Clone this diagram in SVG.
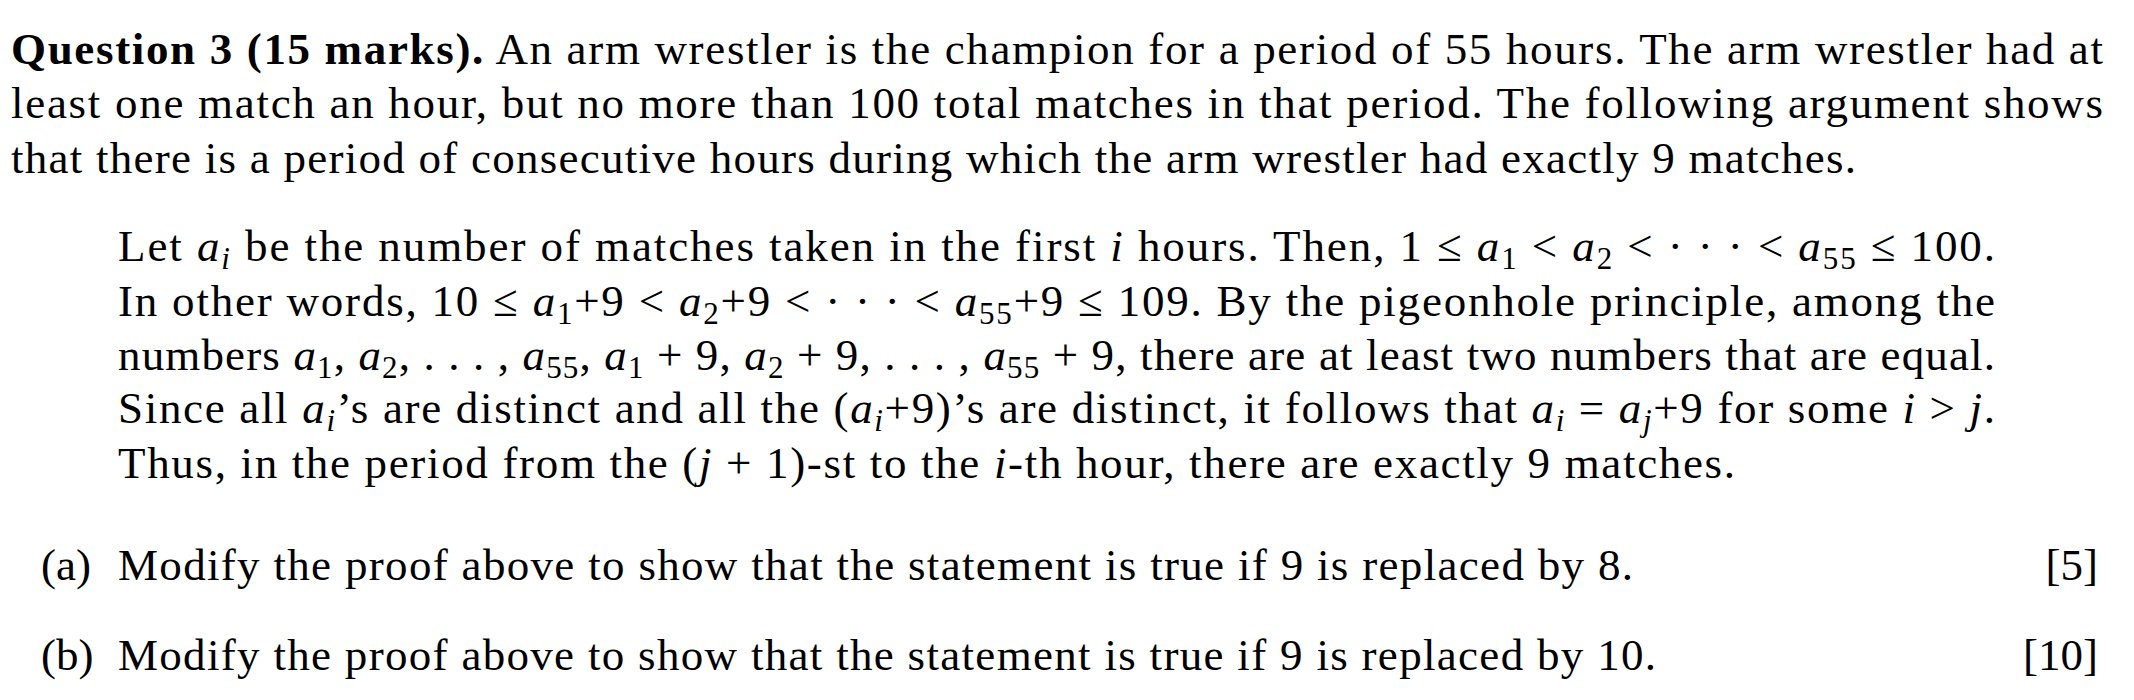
<svg xmlns="http://www.w3.org/2000/svg" width="2134" height="700" viewBox="0 0 2134 700">
<style>
text{font-family:"Liberation Serif","DejaVu Serif",serif;font-size:45px;fill:#000}
.i{font-style:italic}
.s{font-size:31px}
.b{font-weight:bold}
</style>
<rect width="2134" height="700" fill="#fff"/>
<g id="intro">
<text x="11" y="64" textLength="2092" lengthAdjust="spacing"><tspan class="b">Question 3 (15 marks).</tspan> An arm wrestler is the champion for a period of 55 hours. The arm wrestler had at</text>
<text x="11" y="118" textLength="2092" lengthAdjust="spacing">least one match an hour, but no more than 100 total matches in that period. The following argument shows</text>
<text x="11" y="173" textLength="1845" lengthAdjust="spacing">that there is a period of consecutive hours during which the arm wrestler had exactly 9 matches.</text>
</g>
<g id="proof">
<text x="118" y="261" textLength="1877" lengthAdjust="spacing">Let <tspan class="i">a</tspan><tspan class="s i" dy="8">i</tspan><tspan dy="-8"> be the number of matches taken in the first </tspan><tspan class="i">i</tspan> hours. Then, 1 ≤ <tspan class="i">a</tspan><tspan class="s" dy="8">1</tspan><tspan dy="-8"> &lt; </tspan><tspan class="i">a</tspan><tspan class="s" dy="8">2</tspan><tspan dy="-8"> &lt; · · · &lt; </tspan><tspan class="i">a</tspan><tspan class="s" dy="8">55</tspan><tspan dy="-8"> ≤ 100.</tspan></text>
<text x="118" y="316" textLength="1877" lengthAdjust="spacing">In other words, 10 ≤ <tspan class="i">a</tspan><tspan class="s" dy="8">1</tspan><tspan dy="-8">+9 &lt; </tspan><tspan class="i">a</tspan><tspan class="s" dy="8">2</tspan><tspan dy="-8">+9 &lt; · · · &lt; </tspan><tspan class="i">a</tspan><tspan class="s" dy="8">55</tspan><tspan dy="-8">+9 ≤ 109. By the pigeonhole principle, among the</tspan></text>
<text x="118" y="370" textLength="1877" lengthAdjust="spacing">numbers <tspan class="i">a</tspan><tspan class="s" dy="8">1</tspan><tspan dy="-8">, </tspan><tspan class="i">a</tspan><tspan class="s" dy="8">2</tspan><tspan dy="-8">, . . . , </tspan><tspan class="i">a</tspan><tspan class="s" dy="8">55</tspan><tspan dy="-8">, </tspan><tspan class="i">a</tspan><tspan class="s" dy="8">1</tspan><tspan dy="-8"> + 9, </tspan><tspan class="i">a</tspan><tspan class="s" dy="8">2</tspan><tspan dy="-8"> + 9, . . . , </tspan><tspan class="i">a</tspan><tspan class="s" dy="8">55</tspan><tspan dy="-8"> + 9, there are at least two numbers that are equal.</tspan></text>
<text x="118" y="423" textLength="1877" lengthAdjust="spacing">Since all <tspan class="i">a</tspan><tspan class="s i" dy="8">i</tspan><tspan dy="-8">’s are distinct and all the (</tspan><tspan class="i">a</tspan><tspan class="s i" dy="8">i</tspan><tspan dy="-8">+9)’s are distinct, it follows that </tspan><tspan class="i">a</tspan><tspan class="s i" dy="8">i</tspan><tspan dy="-8"> = </tspan><tspan class="i">a</tspan><tspan class="s i" dy="8">j</tspan><tspan dy="-8">+9 for some </tspan><tspan class="i">i</tspan> &gt; <tspan class="i">j</tspan>.</text>
<text x="118" y="478" textLength="1617" lengthAdjust="spacing">Thus, in the period from the (<tspan class="i">j</tspan> + 1)-st to the <tspan class="i">i</tspan>-th hour, there are exactly 9 matches.</text>
</g>
<g id="part-a">
<text x="41" y="580">(a)</text>
<text x="118" y="580" textLength="1515" lengthAdjust="spacing">Modify the proof above to show that the statement is true if 9 is replaced by 8.</text>
<text x="2098" y="580" text-anchor="end">[5]</text>
</g>
<g id="part-b">
<text x="41" y="670">(b)</text>
<text x="118" y="670" textLength="1538" lengthAdjust="spacing">Modify the proof above to show that the statement is true if 9 is replaced by 10.</text>
<text x="2098" y="670" text-anchor="end">[10]</text>
</g>
</svg>
